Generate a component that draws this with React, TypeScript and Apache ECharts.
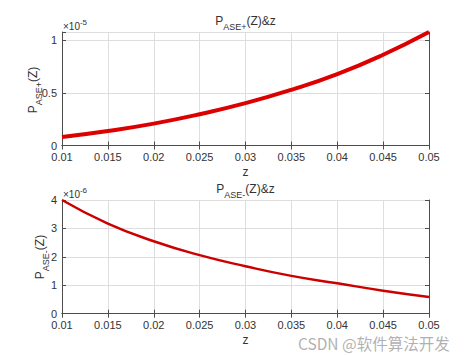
import React, { useEffect, useRef } from "react";
import * as echarts from "echarts";

const zValues = [0.01, 0.015, 0.02, 0.025, 0.03, 0.035, 0.04, 0.045, 0.05];
const pPlus = [0.081, 0.138, 0.208, 0.297, 0.402, 0.529, 0.678, 0.862, 1.078];
const pMinus = [4.0, 3.17, 2.55, 2.06, 1.67, 1.33, 1.07, 0.81, 0.59];
const topYTicks = [0, 0.5, 1];
const bottomYTicks = [0, 1, 2, 3, 4];

const AXIS_COLOR = "#4d4d4d";
const TEXT_COLOR = "#333333";
const GRID_COLOR = "#dedede";
const FONT = "'Liberation Sans', Arial, sans-serif";

export default function App() {
  const ref = useRef<HTMLDivElement>(null);

  useEffect(() => {
    if (!ref.current) return;
    const chart = echarts.init(ref.current, undefined, { renderer: "svg" });

    const grids = [
      { left: 62, top: 32, width: 367, height: 113.5 },
      { left: 62, top: 200, width: 367, height: 113.7 },
    ];

    const fmtX = (v: number) => String(+v.toFixed(3));

    const mkX = (gi: number, pos: "bottom" | "top") => ({
      type: "value",
      gridIndex: gi,
      position: pos,
      min: 0.01,
      max: 0.05,
      interval: 0.005,
      axisLine: { show: true, lineStyle: { color: AXIS_COLOR, width: 1 } },
      axisTick: { show: true, inside: true, length: 4, lineStyle: { color: AXIS_COLOR } },
      axisLabel: {
        show: pos === "bottom",
        formatter: fmtX,
        color: TEXT_COLOR,
        fontSize: 11,
        fontFamily: FONT,
        margin: 5,
        lineHeight: 12,
      },
      splitLine: { show: pos === "bottom", lineStyle: { color: GRID_COLOR, width: 1 } },
    });

    const mkY = (gi: number, pos: "left" | "right", max: number, interval: number) => ({
      type: "value",
      gridIndex: gi,
      position: pos,
      min: 0,
      max,
      interval,
      axisLine: { show: true, lineStyle: { color: AXIS_COLOR, width: 1 } },
      axisTick: { show: true, inside: true, length: 4, lineStyle: { color: AXIS_COLOR } },
      axisLabel: {
        show: pos === "left",
        color: TEXT_COLOR,
        fontSize: 11,
        fontFamily: FONT,
        margin: 5,
        showMaxLabel: true,
        formatter: (v: number) => {
          const ticks = gi === 0 ? topYTicks : bottomYTicks;
          const hit = ticks.find((t) => Math.abs(t - v) < 1e-9);
          return hit === undefined ? "" : String(hit);
        },
      },
      splitLine: { show: pos === "left", lineStyle: { color: GRID_COLOR, width: 1 } },
    });

    const topMax = Math.max(...pPlus);
    const botMax = Math.max(...pMinus);

    const richBase = {
      b: { fontSize: 12, fontFamily: FONT, color: TEXT_COLOR, lineHeight: 20, verticalAlign: "middle" },
      s: { fontSize: 9, fontFamily: FONT, color: TEXT_COLOR, lineHeight: 20, verticalAlign: "bottom" },
    };
    const richSup = {
      b: { fontSize: 10, fontFamily: FONT, color: "#555", lineHeight: 16, verticalAlign: "middle" },
      p: { fontSize: 8, fontFamily: FONT, color: "#555", lineHeight: 16, verticalAlign: "top" },
    };

    const textEl = (x: number, y: number, text: string, rich: any, opts: any = {}) => ({
      type: "text",
      x,
      y,
      rotation: opts.rotation || 0,
      style: {
        text,
        rich,
        align: opts.align || "center",
        verticalAlign: "middle",
        fill: TEXT_COLOR,
        font: `12px ${FONT}`,
      },
      z: 10,
    });

    chart.setOption({
      animation: false,
      backgroundColor: "#ffffff",
      grid: grids,
      xAxis: [mkX(0, "bottom"), mkX(0, "top"), mkX(1, "bottom"), mkX(1, "top")],
      yAxis: [
        mkY(0, "left", topMax, 0.5),
        mkY(0, "right", topMax, 0.5),
        mkY(1, "left", botMax, 1),
        mkY(1, "right", botMax, 1),
      ],
      series: [
        {
          type: "line",
          xAxisIndex: 0,
          yAxisIndex: 0,
          data: zValues.map((z, i) => [z, pPlus[i]]),
          smooth: true,
          showSymbol: false,
          lineStyle: { color: "#dd0000", width: 4 },
          z: 5,
        },
        {
          type: "line",
          xAxisIndex: 2,
          yAxisIndex: 2,
          data: zValues.map((z, i) => [z, pMinus[i]]),
          smooth: true,
          showSymbol: false,
          lineStyle: { color: "#cc0000", width: 2.5 },
          z: 5,
        },
      ],
      graphic: [
        textEl(245.5, 21, "{b|P}{s|ASE+}{b|(Z)&z}", richBase),
        textEl(245.5, 189, "{b|P}{s|ASE-}{b|(Z)&z}", richBase),
        textEl(33, 90, "{b|P}{s|ASE+}{b|(Z)}", richBase, { rotation: Math.PI / 2 }),
        textEl(40, 257, "{b|P}{s|ASE-}{b|(Z)}", richBase, { rotation: Math.PI / 2 }),
        textEl(63, 26, "{b|×10}{p|-5}", richSup, { align: "left" }),
        textEl(63, 194, "{b|×10}{p|-6}", richSup, { align: "left" }),
        {
          type: "text",
          x: 245.5,
          y: 172,
          style: { text: "z", align: "center", verticalAlign: "middle", fill: TEXT_COLOR, font: `12px ${FONT}` },
        },
        {
          type: "text",
          x: 245.5,
          y: 340,
          style: { text: "z", align: "center", verticalAlign: "middle", fill: TEXT_COLOR, font: `12px ${FONT}` },
        },
        {
          type: "text",
          x: 298,
          y: 343,
          style: {
            text: "CSDN @软件算法开发",
            align: "left",
            verticalAlign: "middle",
            lineHeight: 15,
            fill: "rgba(150,150,150,0.75)",
            font: `15.5px 'Noto Sans CJK SC', 'Noto Sans', sans-serif`,
          },
          z: 20,
        },
      ],
    });

    return () => chart.dispose();
  }, []);

  return (
    <div
      ref={ref}
      style={{ position: "fixed", left: 0, top: 0, width: 474, height: 355, background: "#fff" }}
    />
  );
}
